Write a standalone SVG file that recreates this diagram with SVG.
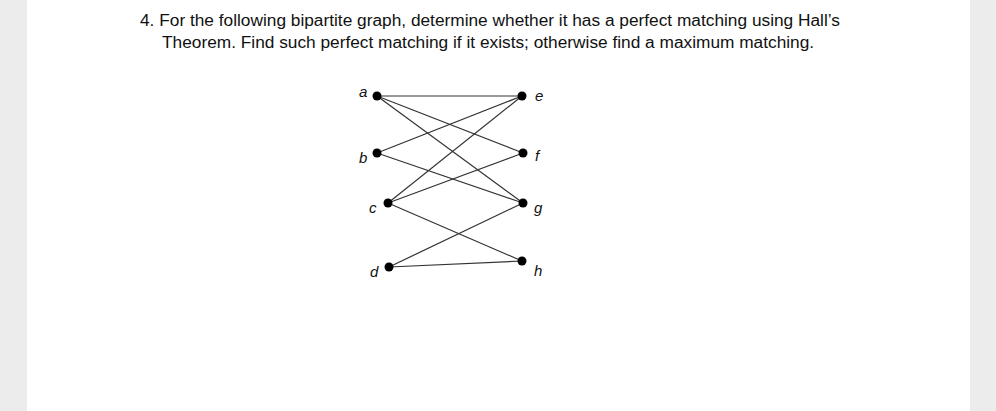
<svg xmlns="http://www.w3.org/2000/svg" width="996" height="411" viewBox="0 0 996 411">
<style>
.t{font-family:"Liberation Sans",Arial,sans-serif;font-size:17.3px;fill:#111}
.l{font-family:"Liberation Sans",Arial,sans-serif;font-size:15px;font-style:italic;fill:#111}
.e{stroke:#333;stroke-width:1.2}
.n{fill:#000}
</style>
<rect width="996" height="411" fill="#ececec"/>
<rect x="27" y="0" width="943" height="411" fill="#fff"/>
<text class="t" x="140" y="26">4.  For the following bipartite graph, determine whether it has a perfect matching using Hall’s</text>
<text class="t" x="162" y="48">Theorem. Find such perfect matching if it exists; otherwise find a maximum matching.</text>
<g id="edges">
<line class="e" x1="377" y1="96" x2="522" y2="96"/>
<line class="e" x1="377" y1="96" x2="523" y2="153"/>
<line class="e" x1="377" y1="96" x2="523" y2="203"/>
<line class="e" x1="377" y1="153" x2="522" y2="96"/>
<line class="e" x1="377" y1="153" x2="523" y2="203"/>
<line class="e" x1="388" y1="203" x2="522" y2="96"/>
<line class="e" x1="388" y1="203" x2="523" y2="153"/>
<line class="e" x1="388" y1="203" x2="522" y2="261"/>
<line class="e" x1="389" y1="267" x2="523" y2="203"/>
<line class="e" x1="389" y1="267" x2="522" y2="261"/>
</g>
<g id="a"><circle class="n" cx="377" cy="96" r="4.5"/><text class="l" x="359" y="97">a</text></g>
<g id="b"><circle class="n" cx="377" cy="153" r="4.5"/><text class="l" x="359" y="163">b</text></g>
<g id="c"><circle class="n" cx="388" cy="203" r="4.5"/><text class="l" x="369" y="213">c</text></g>
<g id="d"><circle class="n" cx="389" cy="267" r="4.5"/><text class="l" x="370" y="277">d</text></g>
<g id="e"><circle class="n" cx="522" cy="96" r="4.5"/><text class="l" x="535" y="101">e</text></g>
<g id="f"><circle class="n" cx="523" cy="153" r="4.5"/><text class="l" x="535" y="161">f</text></g>
<g id="g"><circle class="n" cx="523" cy="203" r="4.5"/><text class="l" x="534" y="213">g</text></g>
<g id="h"><circle class="n" cx="522" cy="261" r="4.5"/><text class="l" x="534" y="276">h</text></g>
</svg>
